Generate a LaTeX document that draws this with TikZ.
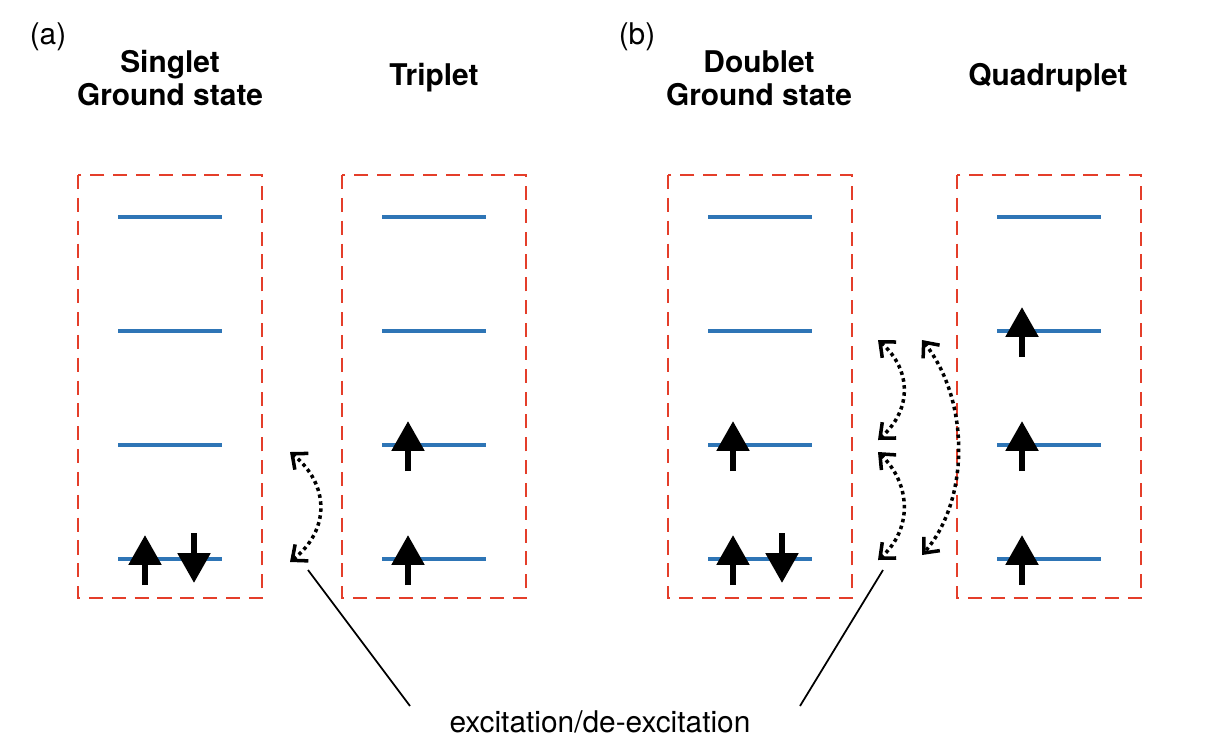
\documentclass[tikz,border=0pt]{standalone}
\usepackage{fontspec}
\setmainfont{TeX Gyre Heros}
\usetikzlibrary{arrows.meta}
\definecolor{boxred}{RGB}{228,62,42}
\definecolor{lvlblue}{RGB}{46,117,182}
\begin{document}
\begin{tikzpicture}[x=0.02cm,y=-0.02cm,
  box/.style={draw=boxred,dashed,dash pattern=on 8pt off 5pt,line width=1.1pt},
  lvl/.style={draw=lvlblue,line width=2.2pt},
  spin/.style={line width=3.6pt,-{Triangle[width=18pt,length=17pt]}},
  dotarr/.style={line width=2pt,dotted,{Straight Barb[length=7pt,width=12pt,line width=2pt]}-{Straight Barb[length=7pt,width=12pt,line width=2pt]}},
  lbl/.style={line width=1pt},
  title/.style={font=\fontsize{17}{19}\selectfont\bfseries,align=center},
  txt/.style={font=\fontsize{17}{19}\selectfont}]
\useasboundingbox (0,0) rectangle (1228,745);
\node[txt] (la) at (48,37) {(a)};
\node[txt] (lb) at (637,37) {(b)};
\node[title] (t1) at (170,78) {Singlet\\Ground state};
\node[title] (t2) at (434,78) {Triplet};
\node[title] (t3) at (759,78) {Doublet\\Ground state};
\node[title] (t4) at (1048,78) {Quadruplet};
\foreach \bx in {78,342,668,957}{
  \draw[box] (\bx,175) rectangle ++(184,423);
  \foreach \y in {217,331,445,559}
    \draw[lvl] (\bx+40,\y) -- ++(104,0);
}
% spins
\foreach \x/\y in {145/559,408/559,408/445,733/559,733/445,1022/559,1022/445,1022/331}
  \draw[spin] (\x,\y+26) -- (\x,\y-24);
\foreach \x in {194,782}
  \draw[spin] (\x,559-26) -- (\x,559+24);
% dotted arrows
\coordinate (a1) at (290,562); \coordinate (a2) at (290,452);
\draw[dotarr] (a1) .. controls (330,530) and (330,485) .. (a2);
\coordinate (b1) at (878,340); \coordinate (b2) at (878,440);
\coordinate (b3) at (878,452); \coordinate (b4) at (878,560);
\coordinate (c1) at (922,340); \coordinate (c2) at (922,555);
\draw[dotarr] (b1) .. controls (912,370) and (912,410) .. (b2);
\draw[dotarr] (b3) .. controls (912,485) and (912,530) .. (b4);
\draw[dotarr] (c1) .. controls (970,400) and (970,500) .. (c2);
% label
\node[txt] (ex) at (600,722) {excitation/de-excitation};
\coordinate (p1) at (308,570); \coordinate (p2) at (883,570);
\draw[lbl] (p1) -- (410,706);
\draw[lbl] (p2) -- (800,706);
\end{tikzpicture}
\end{document}
